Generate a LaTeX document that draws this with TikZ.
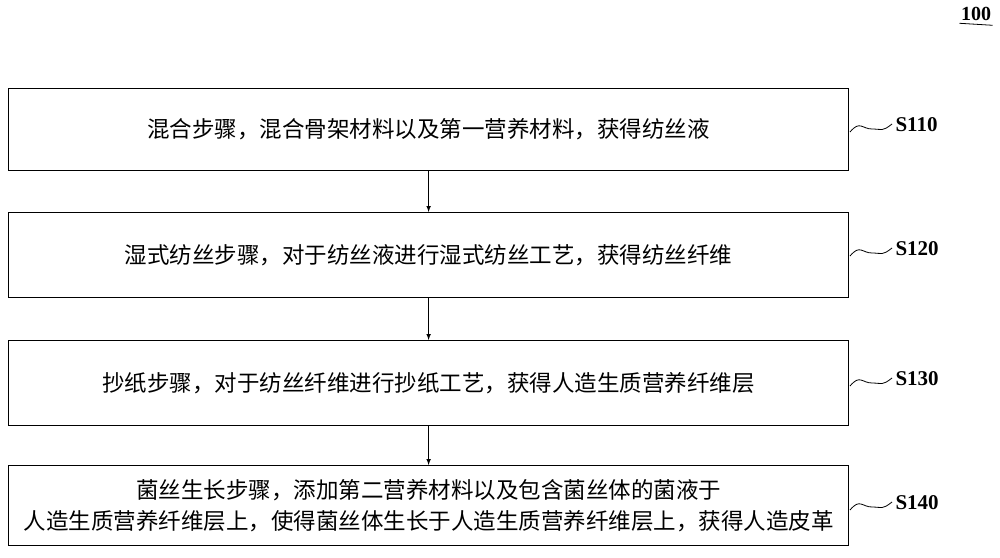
\documentclass[tikz,border=0pt]{standalone}
\usepackage{fontspec}
\setmainfont{Liberation Serif}
\newfontfamily\cjk{Noto Sans CJK SC}
\begin{document}
\begin{tikzpicture}[x=1pt,y=-1pt,
  stepbox/.style={draw,line width=1.2pt,minimum width=840pt,anchor=north west,inner sep=0pt,align=center,font=\cjk\fontsize{22.5}{31}\selectfont},
  lab/.style={anchor=west,font=\bfseries\fontsize{21}{24}\selectfont},
  arr/.style={-latex,line width=1pt}]
\useasboundingbox (0,0) rectangle (1000,557);
\node[stepbox,minimum height=82pt] (b1) at (8,88) {混合步骤，混合骨架材料以及第一营养材料，获得纺丝液};
\node[stepbox,minimum height=85pt] (b2) at (8,212) {湿式纺丝步骤，对于纺丝液进行湿式纺丝工艺，获得纺丝纤维};
\node[stepbox,minimum height=85pt] (b3) at (8,340) {抄纸步骤，对于纺丝纤维进行抄纸工艺，获得人造生质营养纤维层};
\node[stepbox,minimum height=80pt] (b4) at (8,465) {菌丝生长步骤，添加第二营养材料以及包含菌丝体的菌液于\\人造生质营养纤维层上，使得菌丝体生长于人造生质营养纤维层上，获得人造皮革};
\draw[arr] (b1) -- (b2);
\draw[arr] (b2) -- (b3);
\draw[arr] (b3) -- (b4);
\foreach \b/\t/\y in {b1/S110/132,b2/S120/256,b3/S130/386,b4/S140/510}{
  \coordinate (w\b) at (850,\y);
  \draw[line width=0.8pt] (w\b) .. controls +(10,-12) and +(-10,0) .. +(22,-3) .. controls +(10,0) and +(-10,8) .. +(42,-8) coordinate (e\b);
  \node[lab] (l\b) at (892,\y-7) {\t};
}
\node[font=\bfseries\fontsize{20}{22}\selectfont] (n100) at (976,14) {100};
\draw[line width=0.8pt] (n100.south west)++(2,-1) -- ([xshift=-2pt,yshift=-1pt]n100.south east);
\end{tikzpicture}
\end{document}
